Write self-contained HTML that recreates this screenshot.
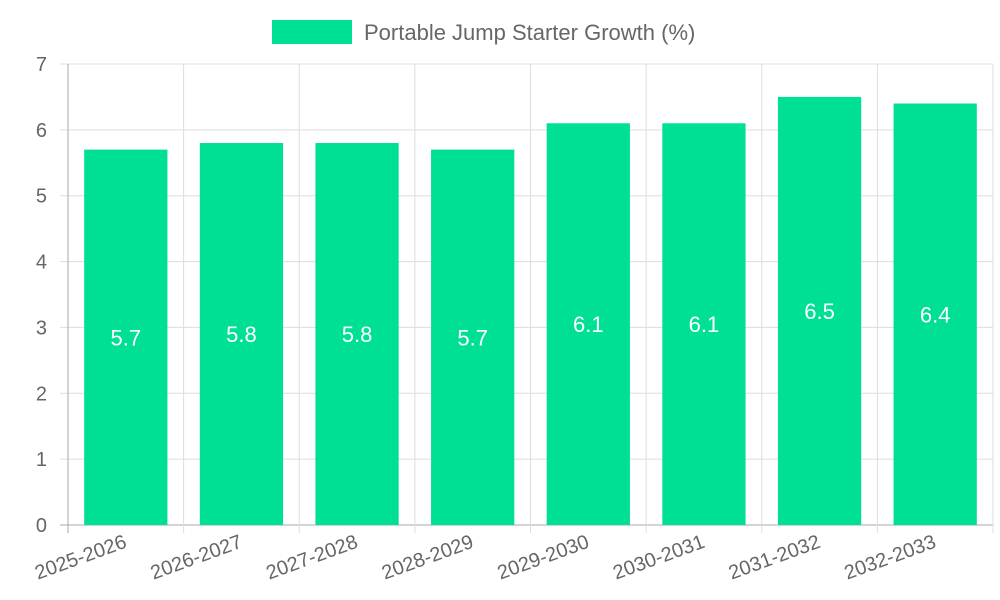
<!DOCTYPE html>
<html><head><meta charset="utf-8"><style>
html,body{margin:0;padding:0;background:#fff;}
svg{display:block;font-family:"Liberation Sans",sans-serif;}
</style></head><body>
<svg id="chart" width="1000" height="600" viewBox="0 0 1000 600">
<g id="legend">
<rect x="272" y="20" width="80" height="24" fill="#00e094"/>
<text x="364" y="40" font-size="22" fill="#666">Portable Jump Starter Growth (%)</text>
</g>
<g id="grid"></g><g id="bars"></g><g id="axes"></g>
</svg>
<script>
const categories=["2025-2026","2026-2027","2027-2028","2028-2029","2029-2030","2030-2031","2031-2032","2032-2033"];
const values=[5.7,5.8,5.8,5.7,6.1,6.1,6.5,6.4];
const yTicks=[0,1,2,3,4,5,6,7];
const NS="http://www.w3.org/2000/svg";
const L=68,R=993,T=64,B=525,yMax=7;
const bw=(R-L)/categories.length;
const y=v=>B-(v/yMax)*(B-T);
const x=i=>L+i*bw;
function mk(tag,attrs,parent,txt){const e=document.createElementNS(NS,tag);for(const k in attrs)e.setAttribute(k,attrs[k]);if(txt!==undefined)e.textContent=txt;document.getElementById(parent).appendChild(e);return e;}
yTicks.forEach(t=>{
 const g=mk("line",{x1:L-8,x2:R,y1:y(t),y2:y(t),stroke:t===0?"#aaa":"#ddd","stroke-width":1},"grid");
 
 
 const l=mk("text",{x:47,y:y(t)+7,"font-size":20,fill:"#666","text-anchor":"end"},"axes",String(t));
 
 
});
for(let i=0;i<=categories.length;i++){
 const g=mk("line",{x1:x(i),x2:x(i),y1:T,y2:B+8,stroke:i===0?"#aaa":"#ddd","stroke-width":1},"grid");
 
 
}
categories.forEach((c,i)=>{
 const bx=x(i)+bw*0.14,w=bw*0.72;
 const r=mk("rect",{x:bx,y:y(values[i]),width:w,height:B-y(values[i]),fill:"#00e094"},"bars");
 
 
 const v=mk("text",{x:x(i)+bw/2,y:y(values[i]/2)+8,"font-size":22,fill:"#fff","text-anchor":"middle"},"bars",String(values[i]));
 
 
 const cx=x(i)+bw/2+2,cy=B+22;
 const t=mk("text",{x:cx,y:cy,"font-size":20,fill:"#666","text-anchor":"end",transform:`rotate(-20 ${cx} ${cy})`},"axes",c);
 
 
});
</script>
</body></html>
